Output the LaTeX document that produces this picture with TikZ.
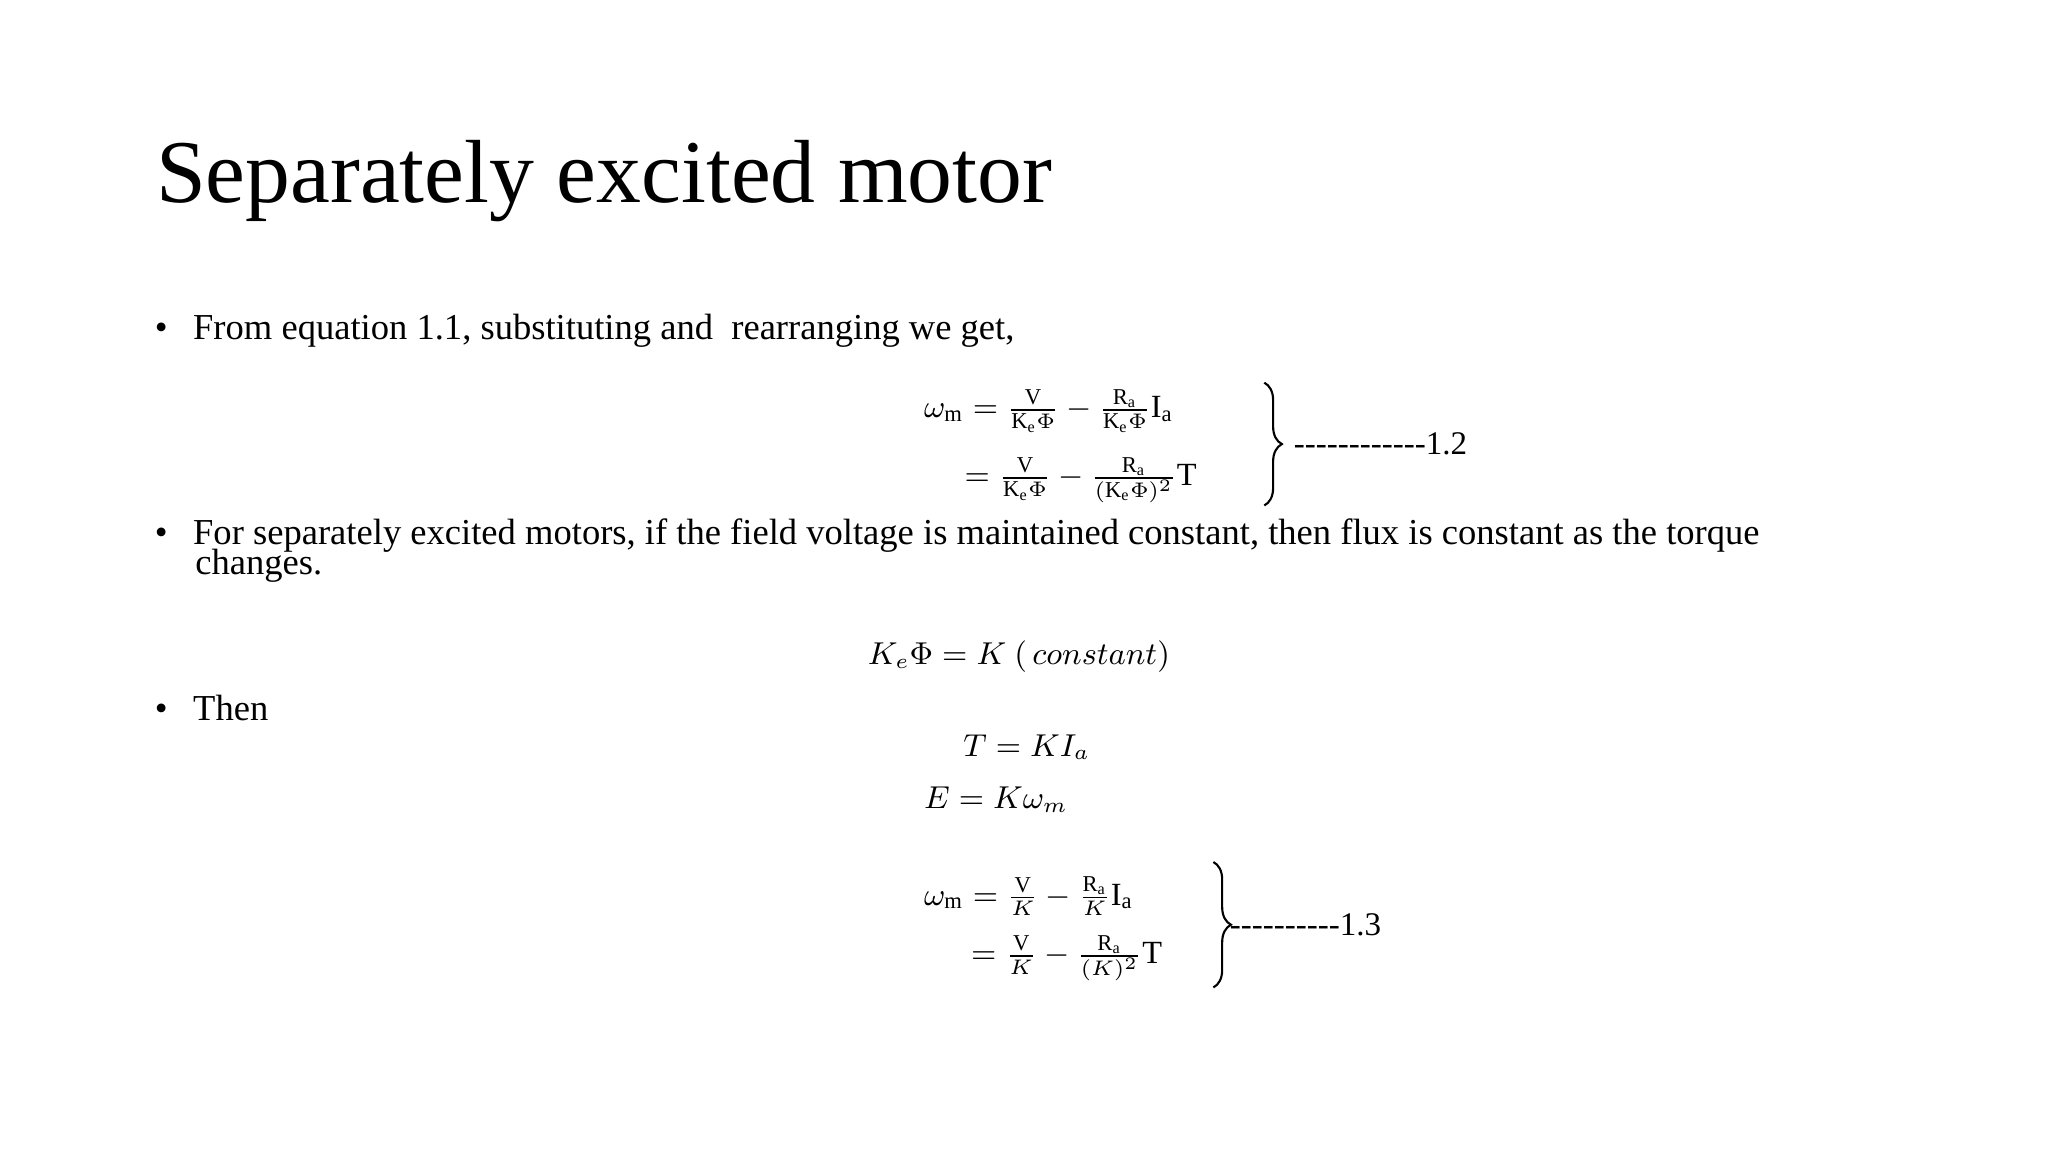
\documentclass[tikz,border=0pt]{standalone}
\usepackage{fontspec}
\setmainfont[Ligatures=NoCommon]{Liberation Serif}
\usetikzlibrary{decorations.pathreplacing}
\begin{document}
\begin{tikzpicture}[x=0.01306cm,y=-0.01306cm,
  body/.style={anchor=base west,inner sep=0,font=\fontsize{10.4}{11}\selectfont},
  lab/.style={anchor=base west,inner sep=0,font=\fontsize{9.4}{10}\selectfont},
  eq/.style={anchor=base west,inner sep=0,font=\fontsize{9.2}{10}\selectfont},
  br/.style={decorate,decoration={brace,amplitude=5pt},line width=0.6pt}]
\useasboundingbox (0,0) rectangle (1568,882);
\node[anchor=base west,inner sep=0,font=\fontsize{25.5}{27}\selectfont] (title) at (119,155) {Separately excited motor};
\node[body] (b1) at (118,260) {•\hspace{0.7em}From equation 1.1, substituting and\ \ rearranging we get,};
\node[eq] (e1) at (707,320) {$\mathrm{\omega_m} = \frac{\mathrm{V}}{\mathrm{K_e}\Phi} - \frac{\mathrm{R_a}}{\mathrm{K_e}\Phi}\mathrm{I_a}$};
\node[eq] (e2) at (738,372) {$= \frac{\mathrm{V}}{\mathrm{K_e}\Phi} - \frac{\mathrm{R_a}}{(\mathrm{K_e}\Phi)^2}\mathrm{T}$};
\coordinate (t1) at (968,293); \coordinate (u1) at (968,387);
\draw[br] (t1) -- (u1);
\node[lab] (l1) at (990,348) {-{}-{}-{}-{}-{}-{}-{}-{}-{}-{}-{}-1.2};
\node[body] (b2) at (118,417) {•\hspace{0.7em}For separately excited motors, if\ the field voltage is maintained constant, then flux is constant as the torque};
\node[body] (b2b) at (149,440) {changes.};
\node[eq] (e3) at (664,509) {$K_e\Phi = K\ (\,constant)$};
\node[body] (b3) at (118,552) {•\hspace{0.7em}Then};
\node[eq] (e4) at (737,579) {$T = KI_a$};
\node[eq] (e5) at (707,619) {$E = K\omega_m$};
\node[eq] (e6) at (707,693) {$\mathrm{\omega_m} = \frac{\mathrm{V}}{K} - \frac{\mathrm{R_a}}{K}\mathrm{I_a}$};
\node[eq] (e7) at (743,738) {$= \frac{\mathrm{V}}{K} - \frac{\mathrm{R_a}}{(K)^2}\mathrm{T}$};
\coordinate (t2) at (929,660); \coordinate (u2) at (929,756);
\draw[br] (t2) -- (u2);
\node[lab] (l2) at (941,716) {-{}-{}-{}-{}-{}-{}-{}-{}-{}-1.3};
\end{tikzpicture}
\end{document}
